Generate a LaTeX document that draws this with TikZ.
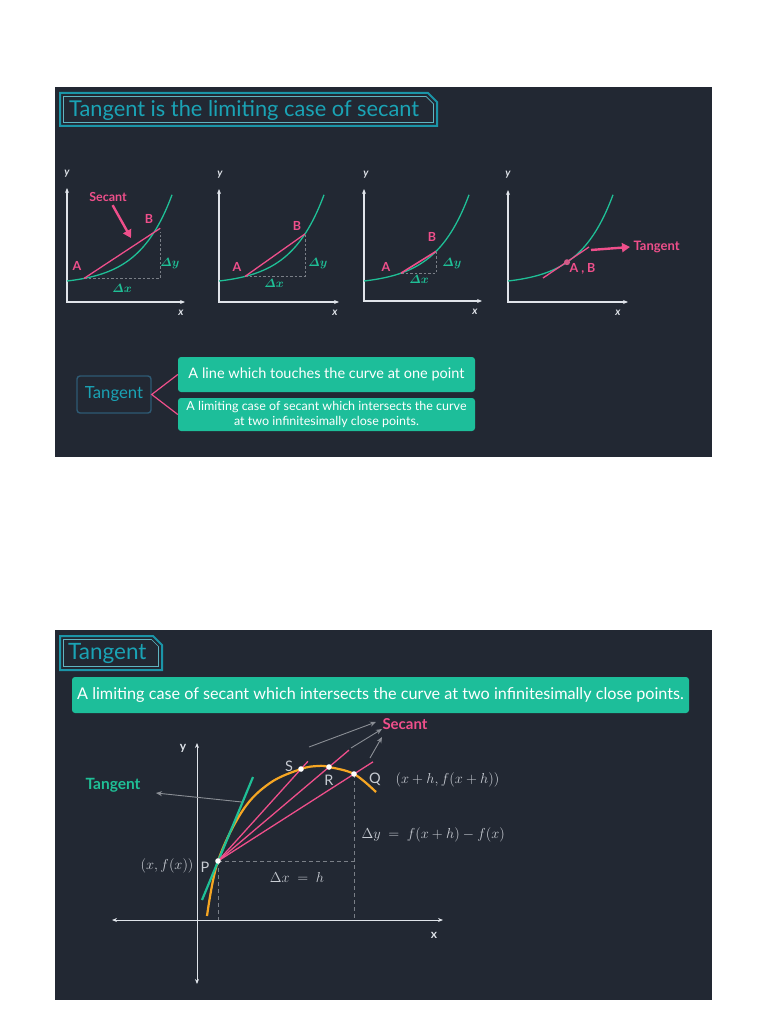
\documentclass[tikz,border=0pt]{standalone}
\usepackage{amsmath}
\usepackage{fontspec}
\setmainfont{Lato}
\setsansfont{Lato}
\usetikzlibrary{arrows.meta,calc}
\definecolor{bg}{HTML}{222833}
\definecolor{ttl}{HTML}{1AA3B5}
\definecolor{ttlline}{HTML}{1B95A8}
\definecolor{gcol}{HTML}{1FBF96}
\definecolor{gbox}{HTML}{1DBE9A}
\definecolor{pk}{HTML}{EF4F8B}
\definecolor{axc}{HTML}{E0E4EA}
\definecolor{dsh}{HTML}{7A7F87}
\definecolor{orc}{HTML}{F6A623}
\definecolor{lbl}{HTML}{C8CCD3}
\definecolor{tbord}{HTML}{2E5A74}
\definecolor{garr}{HTML}{8A8E95}
\begin{document}
\begin{tikzpicture}[x=1pt,y=-1pt,
  declare function={fc(\t)=281-3.86*(exp(0.03*\t)-1);},
  axisln/.style={draw=axc,line width=1.1,{Stealth[length=5pt,width=4pt]}-{Stealth[length=5pt,width=4pt]}},
  gcurve/.style={draw=gcol,line width=1.3},
  secln/.style={draw=pk,line width=1.3},
  dashln/.style={draw=dsh,line width=0.7,dash pattern=on 2.5pt off 2pt},
  ptlabel/.style={text=pk,font=\fontsize{12.5}{14}\selectfont\bfseries},
  dlabel/.style={text=gcol,font=\fontsize{12.5}{13}\selectfont\boldmath},
  axlbl/.style={text=axc,font=\fontsize{10.5}{12}\selectfont\bfseries\itshape},
  bigarrow/.style={draw=pk,line width=2.4,-{Triangle[length=8pt,width=9pt]}},
  gboxst/.style={fill=gbox,rounded corners=3pt,text=white,align=center,inner sep=0pt},
  mlbl/.style={text=lbl,font=\fontsize{14}{16}\selectfont},
  slbl/.style={text=lbl,font=\fontsize{14.5}{16}\selectfont},
  grayarr/.style={draw=garr,line width=0.9,-{Stealth[length=6pt,width=5pt]}},
  dot/.style={fill=white}
]
\useasboundingbox (0,0) rectangle (768,1024);
\fill[white] (0,0) rectangle (768,1024);
\fill[bg] (55,87) rectangle (712,457);
\fill[bg] (55,630) rectangle (712,1000);

% ---------- top title ----------
\draw[ttlline,line width=2] (60,93) -- (428,93) -- (437,102) -- (437,126) -- (60,126) -- cycle;
\draw[ttlline!70!white,line width=0.7] (63.5,96.5) -- (426,96.5) -- (433.5,104) -- (433.5,122.5) -- (63.5,122.5) -- cycle;
\node[anchor=west,text=ttl,font=\fontsize{21.8}{24}\selectfont,inner sep=0pt] (title1) at (69,110) {Tangent is the limiting case of secant};

% ---------- graph 1 ----------
\coordinate (yt1) at (67,188); \coordinate (o1) at (67,302); \coordinate (xr1) at (185,302);
\draw[axisln] (yt1) -- (o1) -- (xr1);
\node[axlbl] (ylab1) at (67,174) {y};
\node[axlbl] (xlab1) at (181,313) {x};
\draw[gcurve] plot[domain=0:105,samples=60] ({67+\x},{fc(\x)});
\coordinate (A1) at ({67+17},{fc(17)});
\coordinate (B1) at ({67+87},{fc(87)});
\draw[dashln] (A1) -| ($(B1)+(6,0)$);
\draw[secln] (A1) -- ($(A1)!1.09!(B1)$);
\node[ptlabel] (la1) at (77,266) {A};
\node[ptlabel] (lb1) at (149,219) {B};
\node[dlabel] (dy1) at (170,264) {$\varDelta y$};
\node[dlabel] (dx1) at (122,288) {$\varDelta x$};
\node[ptlabel] (sec1) at (108,197) {Secant};
\coordinate (sec1t) at (131,238);
\draw[bigarrow] (sec1) -- (sec1t);

% ---------- graph 2 ----------
\coordinate (yt2) at (219,189); \coordinate (o2) at (219,302); \coordinate (xr2) at (339,302);
\draw[axisln] (yt2) -- (o2) -- (xr2);
\node[axlbl] (ylab2) at (220,175) {y};
\node[axlbl] (xlab2) at (335,313) {x};
\draw[gcurve] plot[domain=0:105,samples=60] ({219+\x},{fc(\x)});
\coordinate (A2) at ({219+26},{fc(26)});
\coordinate (B2) at ({219+86},{fc(86)});
\draw[dashln] (A2) -| (B2);
\draw[secln] (A2) -- (B2);
\node[ptlabel] (la2) at (237,267) {A};
\node[ptlabel] (lb2) at (297,226) {B};
\node[dlabel] (dy2) at (318,264) {$\varDelta y$};
\node[dlabel] (dx2) at (274,283) {$\varDelta x$};

% ---------- graph 3 ----------
\coordinate (yt3) at (364,189); \coordinate (o3) at (364,301); \coordinate (xr3) at (482,301);
\draw[axisln] (yt3) -- (o3) -- (xr3);
\node[axlbl] (ylab3) at (366,175) {y};
\node[axlbl] (xlab3) at (475,312) {x};
\draw[gcurve] plot[domain=0:105,samples=60] ({364+\x},{fc(\x)});
\coordinate (A3) at ({364+37},{fc(37)});
\coordinate (B3) at ({364+72},{fc(72)});
\draw[dashln] (A3) -| (B3);
\draw[secln,line width=1.6] (A3) -- (B3);
\node[ptlabel] (la3) at (386,267) {A};
\node[ptlabel] (lb3) at (432,237) {B};
\node[dlabel] (dy3) at (452,264) {$\varDelta y$};
\node[dlabel] (dx3) at (419,279) {$\varDelta x$};

% ---------- graph 4 ----------
\coordinate (yt4) at (508,190); \coordinate (o4) at (508,302); \coordinate (xr4) at (628,302);
\draw[axisln] (yt4) -- (o4) -- (xr4);
\node[axlbl] (ylab4) at (508,175) {y};
\node[axlbl] (xlab4) at (618,313) {x};
\draw[gcurve] plot[domain=0:105,samples=60] ({508+\x},{fc(\x)});
\coordinate (AB4) at ({508+59},{fc(59)});
\coordinate (T4a) at (543,278);
\coordinate (T4b) at (589,247);
\draw[secln] (T4a) -- (T4b);
\fill[pk!75!gray] (AB4) circle (3);
\node[ptlabel,anchor=west] (lab4) at (566,269) {A , B};
\node[ptlabel,anchor=west,font=\fontsize{13}{14}\selectfont\bfseries] (tan4) at (630,247) {Tangent};
\coordinate (tan4s) at (591,250);
\draw[bigarrow] (tan4s) -- (tan4.west);

% ---------- tangent definition ----------
\node[draw=tbord,line width=1.4,rounded corners=3pt,minimum width=74,minimum height=37,text=ttl,font=\fontsize{16.7}{18}\selectfont,inner sep=0pt] (tb) at (114,394.5) {Tangent};
\node[gboxst,minimum width=297,minimum height=35,font=\fontsize{14.5}{16}\selectfont] (g1) at (326.5,374.5) {A line which touches the curve at one point};
\node[gboxst,minimum width=297,minimum height=33,font=\fontsize{12.5}{14.5}\selectfont] (g2) at (326.5,414.5) {A limiting case of secant which intersects the curve\\at two infinitesimally close points.};
\draw[pk,line width=1.2] (g1.west) -- (tb.east) -- (g2.west);

% ---------- bottom panel ----------
\draw[ttlline,line width=2] (60,636) -- (153,636) -- (162,645) -- (162,670) -- (60,670) -- cycle;
\draw[ttlline!70!white,line width=0.7] (63.5,639.5) -- (151.5,639.5) -- (158.5,646.5) -- (158.5,666.5) -- (63.5,666.5) -- cycle;
\node[anchor=west,text=ttl,font=\fontsize{22.5}{24}\selectfont,inner sep=0pt] (title2) at (68,653) {Tangent};
\node[gboxst,minimum width=617,minimum height=36,font=\fontsize{16.2}{18}\selectfont] (bar) at (380.5,695) {A limiting case of secant which intersects the curve at two infinitesimally close points.};

% axes
\coordinate (xl) at (112,920); \coordinate (xr) at (443,920);
\coordinate (yt) at (197,743); \coordinate (yb) at (197,984);
\draw[axisln,line width=1] (xl) -- (xr);
\draw[axisln,line width=1] (yt) -- (yb);
\node[text=axc,font=\fontsize{12}{13}\selectfont\bfseries] (ylab) at (183,748) {y};
\node[text=axc,font=\fontsize{12}{13}\selectfont\bfseries] (xlab) at (434,935) {x};

% points
\coordinate (P) at (218,861);
\coordinate (S) at (301,769);
\coordinate (R) at (329,767);
\coordinate (Q) at (354,774);

% dashed
\draw[dashln,line width=1,dash pattern=on 4pt off 3pt] (P) -- (Q |- P);
\draw[dashln,line width=1,dash pattern=on 4pt off 3pt] (Q) -- (Q |- xl);
\draw[dashln,line width=1,dash pattern=on 4pt off 3pt] (P) -- (P |- xl);

% curve
\draw[orc,line width=2.2] plot[smooth,tension=0.6] coordinates {(207,916) (P) (243,810) (270,783) (S) (318,766) (R) (Q) (376,792)};

% tangent line
\coordinate (T1) at (253,777); \coordinate (T2) at (202,900);
\draw[gcol,line width=2.2] (T2) -- (T1);

% secants
\draw[secln,line width=1.3] (P) -- ($(P)!1.084!(S)$);
\draw[secln,line width=1.3] (P) -- ($(P)!1.18!(R)$);
\draw[secln,line width=1.3] (P) -- ($(P)!1.14!(Q)$);

\foreach \p in {P,S,R,Q} \fill[dot] (\p) circle (2.8);

% labels
\node[slbl] (lP) at (205,867) {P};
\node[slbl] (lS) at (289,766) {S};
\node[slbl] (lR) at (329,780) {R};
\node[slbl] (lQ) at (375,779) {Q};
\node[mlbl,anchor=east] (fx) at (197,866) {$(x, f(x))$};
\node[mlbl,anchor=west] (qxy) at (392,780) {$(x + h, f(x + h))$};
\node[mlbl,anchor=west] (dyl) at (358,835) {$\Delta y\ =\ f(x + h) - f(x)$};
\node[mlbl] (dxl) at (297,877) {$\Delta x\ =\ h$};

% tangent label & arrow
\node[text=gcol,font=\fontsize{15.5}{17}\selectfont\bfseries] (tanl) at (113,785) {Tangent};
\coordinate (tanS) at (242,802); \coordinate (tanE) at (156,793);
\draw[grayarr] (tanS) -- (tanE);

% secant label & arrows
\node[text=pk,font=\fontsize{15}{17}\selectfont\bfseries] (secl) at (405,724) {Secant};
\coordinate (sa1) at (309,747); \coordinate (sb1) at (376,722);
\coordinate (sa2) at (351,748); \coordinate (sb2) at (382,729);
\coordinate (sa3) at (370,758); \coordinate (sb3) at (382,737);
\draw[grayarr] (sa1) -- (sb1);
\draw[grayarr] (sa2) -- (sb2);
\draw[grayarr] (sa3) -- (sb3);
\end{tikzpicture}
\end{document}
